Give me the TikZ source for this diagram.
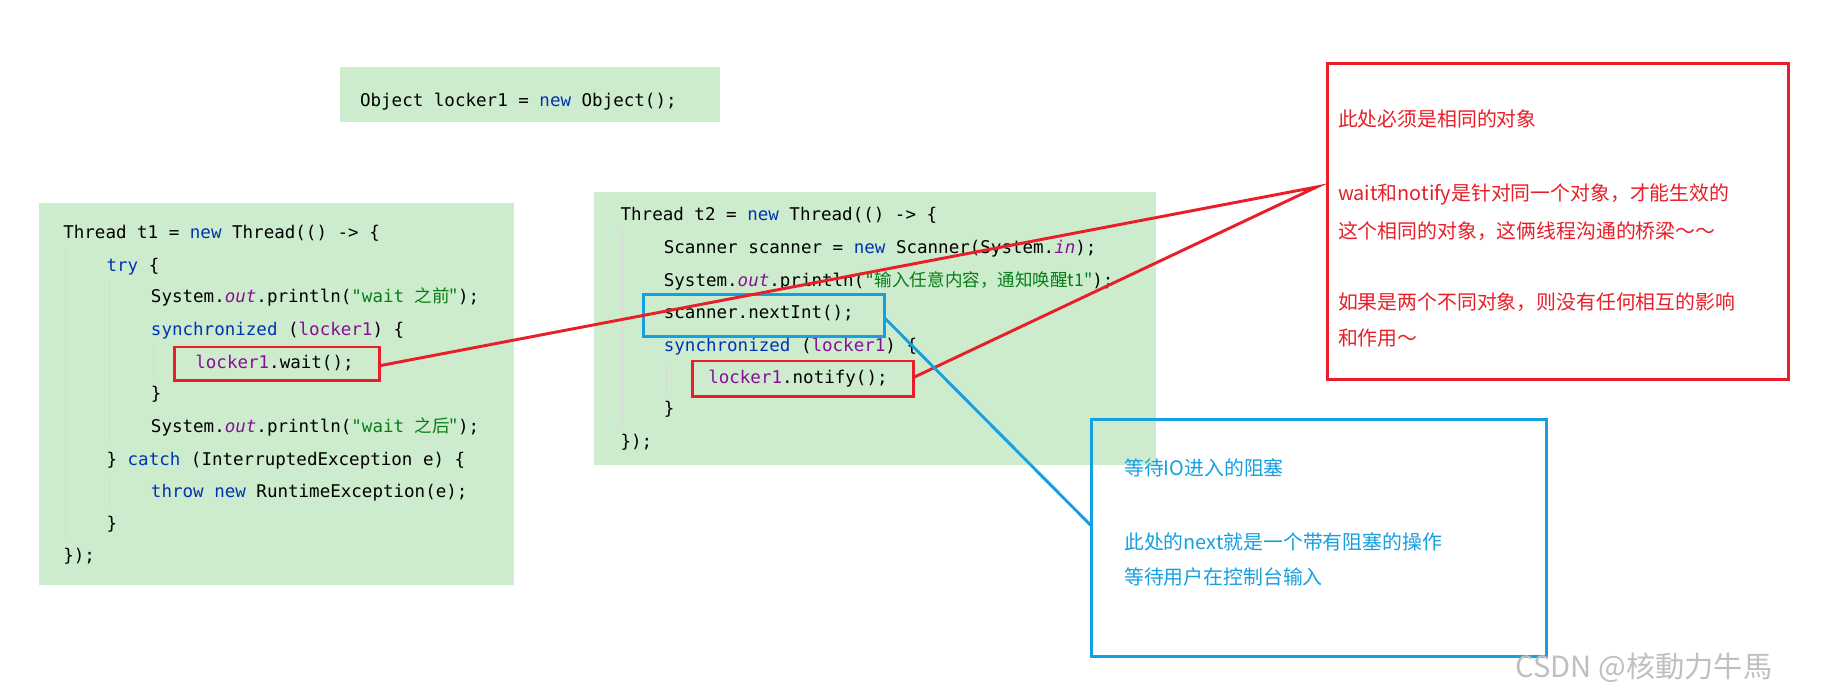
\documentclass[tikz,border=0pt]{standalone}
\usepackage{fontspec}
\setmonofont{DejaVu Sans Mono}
\newfontfamily\cjk{Noto Sans CJK SC}
\definecolor{bg}{RGB}{205,236,205}
\definecolor{kw}{RGB}{0,51,179}
\definecolor{pu}{RGB}{135,16,148}
\definecolor{st}{RGB}{6,125,23}
\definecolor{rd}{RGB}{232,30,40}
\definecolor{bl}{RGB}{20,160,225}
\newcommand\kw[1]{\textcolor{kw}{#1}}
\newcommand\pv[1]{\textcolor{pu}{#1}}
\newcommand\po[1]{\textcolor{pu}{\itshape #1}}
\newcommand\sv[1]{\textcolor{st}{#1}}
\begin{document}
\begin{tikzpicture}[x=1pt,y=-1pt,
 code/.style={anchor=base west,inner sep=0,font=\ttfamily\fontsize{15}{18}\selectfont},
 note/.style={anchor=base west,inner sep=0,font=\cjk\fontsize{17}{19}\selectfont},
 guide/.style={draw=black!15,line width=0.8pt}]
\useasboundingbox (0,0) rectangle (1568,596);
\fill[white] (0,0) rectangle (1568,596);
% backgrounds
\fill[bg] (291,57) rectangle (616,104);
\fill[bg] (33,174) rectangle (440,501);
\fill[bg] (508,164) rectangle (989,398);
\node[code] (obj) at (308,91) {Object locker1 = \kw{new} Object();};
% t1
\draw[guide] (56,212)--(56,464); \draw[guide] (94,240)--(94,380); \draw[guide] (131,295)--(131,324); \draw[guide] (94,407)--(94,436);
\node[code] at (54,204) {Thread t1 = \kw{new} Thread(() -> \{};
\node[code] at (91,232) {\kw{try} \{};
\node[code] at (129,259) {System.\po{out}.println(\sv{"wait \cjk{之前}"});};
\node[code] at (129,287) {\kw{synchronized} (\pv{locker1}) \{};
\node[code] (wait) at (167,315) {\pv{locker1}.wait();};
\node[code] at (129,342) {\}};
\node[code] at (129,370) {System.\po{out}.println(\sv{"wait \cjk{之后}"});};
\node[code] at (91,398) {\} \kw{catch} (InterruptedException e) \{};
\node[code] at (129,426) {\kw{throw} \kw{new} RuntimeException(e);};
\node[code] at (91,453) {\}};
\node[code] at (54,481) {\});};
% t2
\draw[guide] (533,197)--(533,365); \draw[guide] (570,309)--(570,338);
\node[code] at (531,189) {Thread t2 = \kw{new} Thread(() -> \{};
\node[code] at (568,217) {Scanner scanner = \kw{new} Scanner(System.\po{in});};
\node[code] at (568,245) {System.\po{out}.println(\sv{"\cjk{输入任意内容，通知唤醒}t1"});};
\node[code] (next) at (568,273) {scanner.nextInt();};
\node[code] at (568,301) {\kw{synchronized} (\pv{locker1}) \{};
\node[code] (notify) at (606,328) {\pv{locker1}.notify();};
\node[code] at (568,355) {\}};
\node[code] at (531,383) {\});};
% highlight boxes
\draw[rd,line width=2.5pt] (149,297) rectangle (325,326);
\draw[rd,line width=2.5pt] (593,309) rectangle (782,339);
\draw[bl,line width=2.5pt] (551,252) rectangle (757,288);
\draw[rd,line width=2.5pt] (1136,54) rectangle (1531,325);
\draw[bl,line width=2.5pt] (934,359) rectangle (1324,562);
\coordinate (tip) at (1127,160);
\draw[rd,line width=2.5pt] (325,313) -- (tip) -- (782,323);
\draw[bl,line width=2.5pt] (757,272) -- (934,450);
% notes
\node[note,text=rd] at (1145,108) {此处必须是相同的对象};
\node[note,text=rd] at (1145,172) {wait和notify是针对同一个对象，才能生效的};
\node[note,text=rd] at (1145,204) {这个相同的对象，这俩线程沟通的桥梁～～};
\node[note,text=rd] at (1145,265) {如果是两个不同对象，则没有任何相互的影响};
\node[note,text=rd] at (1145,296) {和作用～};
\node[note,text=bl] at (962,407) {等待IO进入的阻塞};
\node[note,text=bl] at (962,470) {此处的next就是一个带有阻塞的操作};
\node[note,text=bl] at (962,500) {等待用户在控制台输入};
\node[anchor=base west,inner sep=0,text=black!25,font=\cjk\fontsize{25}{27}\selectfont] at (1297,580) {CSDN @核動力牛馬};
\end{tikzpicture}
\end{document}
